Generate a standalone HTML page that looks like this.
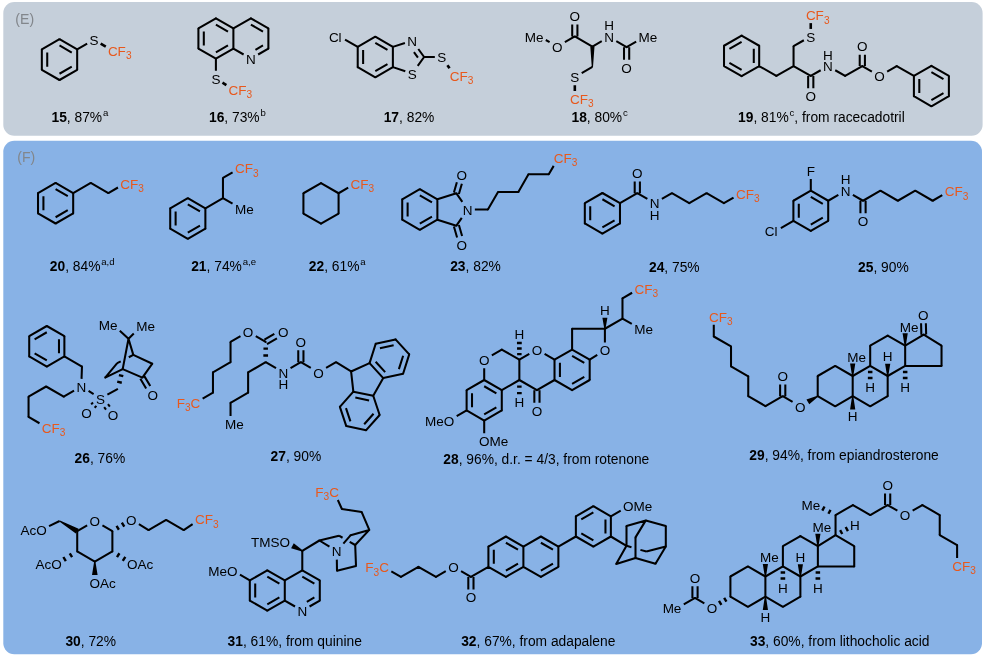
<!DOCTYPE html>
<html><head><meta charset="utf-8"><title>Scheme</title>
<style>
html,body{margin:0;padding:0;background:#fff}
svg{display:block;will-change:transform}
text{font-family:"Liberation Sans",Arial,Helvetica,sans-serif}
</style></head><body>
<svg width="987" height="661" viewBox="0 0 987 661">
<rect x="3.3" y="2.1" width="979.3" height="133.6" rx="11" ry="11" fill="#c5cfda"/>
<rect x="3.3" y="140.7" width="978.7" height="513.6" rx="11" ry="11" fill="#88b2e6"/>
<g font-size="14.1" fill="#82868b"><text x="15.3" y="23.8">(E)</text><text x="17.3" y="162.4">(F)</text></g>
<g fill="none" stroke="#000" stroke-width="2.05" stroke-linecap="butt" stroke-linejoin="round">
<path d="M59.5 39.2L77.17 49.4M59.5 45.44L71.77 52.52M77.17 49.4L77.17 69.8M77.17 69.8L59.5 80M71.77 66.68L59.5 73.76M59.5 80L41.83 69.8M41.83 69.8L41.83 49.4M47.23 66.68L47.23 52.52M41.83 49.4L59.5 39.2M77.17 49.4L87.16 43.63"/>
<path d="M59.5 39.2h0M77.17 49.4h0M77.17 69.8h0M59.5 80h0M41.83 69.8h0M41.83 49.4h0" stroke-linecap="round"/>
<path d="M99.99 44.65L105.13 47.68L106.45 45.44L101.31 42.41Z" fill="#000" stroke="none"/>
<path d="M215.9 18.3L233.39 28.4M215.9 24.54L227.99 31.52M233.39 28.4L233.39 48.6M233.39 48.6L215.9 58.7M227.99 45.48L215.9 52.46M215.9 58.7L198.41 48.6M198.41 48.6L198.41 28.4M203.81 45.48L203.81 31.52M198.41 28.4L215.9 18.3M250.89 18.3L268.38 28.4M250.89 24.54L262.98 31.52M268.38 28.4L268.38 48.6M268.38 48.6L258.15 54.51M262.98 45.48L255.45 49.83M243.62 54.51L233.39 48.6M233.39 28.4L250.89 18.3M215.9 58.7L215.9 70.67"/>
<path d="M215.9 18.3h0M233.39 28.4h0M233.39 48.6h0M215.9 58.7h0M198.41 48.6h0M198.41 28.4h0M250.89 18.3h0M268.38 28.4h0M268.38 48.6h0" stroke-linecap="round"/>
<path d="M221.78 83.67L225.63 86.17L227.05 83.99L223.2 81.49Z" fill="#000" stroke="none"/>
<path d="M375.3 36.7L392.88 46.85M375.3 42.94L387.48 49.97M392.88 46.85L392.88 67.15M392.88 67.15L375.3 77.3M387.48 64.03L375.3 71.06M375.3 77.3L357.72 67.15M357.72 67.15L357.72 46.85M363.12 64.03L363.12 49.97M357.72 46.85L375.3 36.7M357.72 46.85L345.03 39.52M392.88 46.85L404.92 42.94M418.31 49.01L424.12 57M413.95 52.18L417.92 57.65M424.12 57L417.73 65.79M405.29 71.18L392.88 67.15M424.12 57L434.83 57"/>
<path d="M375.3 36.7h0M392.88 46.85h0M392.88 67.15h0M375.3 77.3h0M357.72 67.15h0M357.72 46.85h0M424.12 57h0" stroke-linecap="round"/>
<path d="M446.35 65.88L448.48 68.93L450.61 67.43L448.48 64.39Z" fill="#000" stroke="none"/>
<path d="M592.4 46.6L574.82 36.45M577.42 36.45L577.42 24.58M572.22 36.45L572.22 24.58M574.82 36.45L564.88 42.19M549.6 42.19L545.8 40M592.4 46.6L601.76 41.19M616.29 41.19L626.61 47.15M624.01 47.15L624.01 59.82M629.21 47.15L629.21 59.82M626.61 47.15L636.18 41.63M592.4 66.9L581.71 73.07"/>
<path d="M592.4 46.6h0M574.82 36.45h0M626.61 47.15h0" stroke-linecap="round"/>
<path d="M593.01 66.9L594.5 46.6L590.3 46.6L591.78 66.9ZM573.52 85.18L573.52 91.02L576.12 91.02L576.12 85.18Z" fill="#000" stroke="none"/>
<path d="M741.6 35.6L759.18 45.75M759.18 45.75L759.18 66.05M753.78 48.87L753.78 62.93M759.18 66.05L741.6 76.2M741.6 76.2L724.02 66.05M741.6 69.96L729.42 62.93M724.02 66.05L724.02 45.75M724.02 45.75L741.6 35.6M729.42 48.87L741.6 41.84M759.18 66.05L776.37 75.97M776.37 75.97L793.56 66.05M793.56 66.05L793.56 46.2M793.56 46.2L803.86 40.25M793.56 66.05L810.75 75.97M808.15 75.97L808.15 88.19M813.35 75.97L813.35 88.19M810.75 75.97L820.68 70.24M835.21 70.24L845.13 75.97M845.13 75.97L862.32 66.05M864.92 66.05L864.92 54.63M859.72 66.05L859.72 54.63M862.32 66.05L871.87 71.56M887.15 71.56L896.71 66.05M896.71 66.05L913.9 75.97M931.39 65.87L948.88 75.97M931.39 72.11L943.48 79.09M948.88 75.97L948.88 96.17M948.88 96.17L931.39 106.27M943.48 93.06L931.39 100.04M931.39 106.27L913.9 96.17M913.9 96.17L913.9 75.97M919.3 93.06L919.3 79.09M913.9 75.97L931.39 65.87"/>
<path d="M741.6 35.6h0M759.18 45.75h0M759.18 66.05h0M741.6 76.2h0M724.02 66.05h0M724.02 45.75h0M776.37 75.97h0M793.56 66.05h0M793.56 46.2h0M810.75 75.97h0M845.13 75.97h0M862.32 66.05h0M896.71 66.05h0M913.9 75.97h0M931.39 65.87h0M948.88 75.97h0M948.88 96.17h0M931.39 106.27h0M913.9 96.17h0" stroke-linecap="round"/>
<path d="M812.05 28.94L812.05 23.11L809.45 23.11L809.45 28.94Z" fill="#000" stroke="none"/>
<path d="M55.6 182.9L73.18 193.05M55.6 189.14L67.78 196.17M73.18 193.05L73.18 213.35M73.18 213.35L55.6 223.5M67.78 210.23L55.6 217.26M55.6 223.5L38.02 213.35M38.02 213.35L38.02 193.05M43.42 210.23L43.42 196.17M38.02 193.05L55.6 182.9M73.18 193.05L90.76 182.9M90.76 182.9L108.34 193.05M108.34 193.05L117.96 187.49"/>
<path d="M55.6 182.9h0M73.18 193.05h0M73.18 213.35h0M55.6 223.5h0M38.02 213.35h0M38.02 193.05h0M90.76 182.9h0M108.34 193.05h0" stroke-linecap="round"/>
<path d="M187.8 198.2L205.38 208.35M187.8 204.44L199.98 211.47M205.38 208.35L205.38 228.65M205.38 228.65L187.8 238.8M199.98 225.53L187.8 232.56M187.8 238.8L170.22 228.65M170.22 228.65L170.22 208.35M175.62 225.53L175.62 211.47M170.22 208.35L187.8 198.2M205.38 208.35L222.96 198.2M222.96 198.2L222.96 177.9M222.96 177.9L232.58 172.34M222.96 198.2L232.53 203.72"/>
<path d="M187.8 198.2h0M205.38 208.35h0M205.38 228.65h0M187.8 238.8h0M170.22 228.65h0M170.22 208.35h0M222.96 198.2h0M222.96 177.9h0" stroke-linecap="round"/>
<path d="M321 183.1L338.58 193.25M338.58 193.25L338.58 213.55M338.58 213.55L321 223.7M321 223.7L303.42 213.55M303.42 213.55L303.42 193.25M303.42 193.25L321 183.1M338.58 193.25L348.2 187.69"/>
<path d="M321 183.1h0M338.58 193.25h0M338.58 213.55h0M321 223.7h0M303.42 213.55h0M303.42 193.25h0" stroke-linecap="round"/>
<path d="M419.8 189.2L437.38 199.35M419.8 195.44L431.98 202.47M437.38 199.35L437.38 219.65M437.38 219.65L419.8 229.8M431.98 216.53L419.8 223.56M419.8 229.8L402.22 219.65M402.22 219.65L402.22 199.35M407.62 216.53L407.62 202.47M402.22 199.35L419.8 189.2M437.38 199.35L456.4 193.3M456.4 193.3L462.32 201.87M461.77 217.93L456.4 225.7M456.4 225.7L437.38 219.65M458.9 194.02L461.86 183.75M453.9 192.58L456.87 182.31M453.9 226.42L457.1 237.49M458.9 224.98L462.09 236.05M474.86 209.5L487.9 209.5M487.9 209.5L498.05 191.92M498.05 191.92L518.35 191.92M518.35 191.92L528.5 174.34M528.5 174.34L548.8 174.34M548.8 174.34L553.68 165.88"/>
<path d="M419.8 189.2h0M437.38 199.35h0M437.38 219.65h0M419.8 229.8h0M402.22 219.65h0M402.22 199.35h0M456.4 193.3h0M456.4 225.7h0M487.9 209.5h0M498.05 191.92h0M518.35 191.92h0M528.5 174.34h0M548.8 174.34h0" stroke-linecap="round"/>
<path d="M602.4 193L619.98 203.15M602.4 199.24L614.58 206.27M619.98 203.15L619.98 223.45M619.98 223.45L602.4 233.6M614.58 220.33L602.4 227.36M602.4 233.6L584.82 223.45M584.82 223.45L584.82 203.15M590.22 220.33L590.22 206.27M584.82 203.15L602.4 193M619.98 203.15L637.3 193.15M639.9 193.15L639.9 181.58M634.7 193.15L634.7 181.58M637.3 193.15L647.36 198.96M661.89 198.96L671.94 193.15M671.94 193.15L689.26 203.15M689.26 203.15L706.58 193.15M706.58 193.15L723.9 203.15M723.9 203.15L733.53 197.59"/>
<path d="M602.4 193h0M619.98 203.15h0M619.98 223.45h0M602.4 233.6h0M584.82 223.45h0M584.82 203.15h0M637.3 193.15h0M671.94 193.15h0M689.26 203.15h0M706.58 193.15h0M723.9 203.15h0" stroke-linecap="round"/>
<path d="M810.8 190.7L828.21 200.75M810.8 196.94L822.81 203.87M828.21 200.75L828.21 220.85M828.21 220.85L810.8 230.9M822.81 217.73L810.8 224.66M810.8 230.9L793.39 220.85M793.39 220.85L793.39 200.75M798.79 217.73L798.79 203.87M793.39 200.75L810.8 190.7M810.8 190.7L810.8 179.03M793.39 220.85L780.88 228.08M828.21 200.75L838.35 194.89M852.88 194.89L863.02 200.75M860.42 200.75L860.42 213.22M865.62 200.75L865.62 213.22M863.02 200.75L880.43 190.7M880.43 190.7L897.84 200.75M897.84 200.75L915.24 190.7M915.24 190.7L932.65 200.75M932.65 200.75L942.27 195.19"/>
<path d="M810.8 190.7h0M828.21 200.75h0M828.21 220.85h0M810.8 230.9h0M793.39 220.85h0M793.39 200.75h0M863.02 200.75h0M880.43 190.7h0M897.84 200.75h0M915.24 190.7h0M932.65 200.75h0" stroke-linecap="round"/>
<path d="M46.8 326L64.38 336.15M64.38 336.15L64.38 356.45M58.98 339.27L58.98 353.33M64.38 356.45L46.8 366.6M46.8 366.6L29.22 356.45M46.8 360.36L34.62 353.33M29.22 356.45L29.22 336.15M29.22 336.15L46.8 326M34.62 339.27L46.8 332.24M64.38 356.45L81.96 366.6M81.96 366.6L81.55 378.87M74.04 390.69L63.72 396.65M63.72 396.65L46.14 386.5M46.14 386.5L28.56 396.65M28.56 396.65L28.56 416.95M28.56 416.95L39.48 423.26M88.56 390.96L93.61 394.06M92.99 402.54L91.18 404.39M96.42 405.9L94.61 407.75M104.17 407.09L106.02 409.52M107.99 404.18L109.84 406.61M128.5 338.8L119.8 330.68M128.5 338.8L133.78 333.52M122.7 369.1L128.5 338.8M128.5 338.8L133.3 354.9M133.3 354.9L152.3 363.7M152.3 363.7L142.4 377.6M142.4 377.6L122.7 369.1M140.34 378.84L146.15 388.5M144.46 376.36L150.27 386.03M122.7 369.1L105.2 377.6M105.2 377.6L117.2 363.2M117.2 363.2L120.74 361.37M128.79 357.22L133.3 354.9M117.9 388.8L107.39 394.54"/>
<path d="M46.8 326h0M64.38 336.15h0M64.38 356.45h0M46.8 366.6h0M29.22 356.45h0M29.22 336.15h0M81.96 366.6h0M63.72 396.65h0M46.14 386.5h0M28.56 396.65h0M28.56 416.95h0M128.5 338.8h0M122.7 369.1h0M133.3 354.9h0M152.3 363.7h0M142.4 377.6h0M105.2 377.6h0" stroke-linecap="round"/>
<path d="M119.2 373.97L118.63 376.3L123 377.37L123.57 375.03ZM117.5 380.51L116.93 382.84L121.5 383.96L122.07 381.62Z" fill="#000" stroke="none"/>
<path d="M267 344.15L276.94 338.41M264.4 339.65L274.34 333.91M265.7 341.9L255.76 336.16M240.48 336.16L230.54 341.9M230.54 341.9L230.54 362.2M230.54 362.2L212.96 372.35M212.96 372.35L212.96 392.65M212.96 392.65L202.64 398.61M265.7 362.2L248.12 372.35M248.12 372.35L248.12 392.65M248.12 392.65L230.54 402.8M230.54 402.8L230.54 415.97M265.7 362.2L276.02 368.16M290.54 368.16L300.86 362.2M303.46 362.2L303.46 350.33M298.26 362.2L298.26 350.33M300.86 362.2L310.8 367.94M326.08 367.94L336.02 362.2M351.09 371.47L369.57 363.08M383.26 378.08L373.23 395.73M353.35 391.64L351.09 371.47M336.02 362.2L351.09 371.47M383.26 378.08L369.57 363.08M385.15 372.13L375.66 361.75M369.57 363.08L375.71 343.73M375.71 343.73L395.54 339.38M379.91 348.34L393.65 345.32M395.54 339.38L409.23 354.37M409.23 354.37L403.09 373.72M403.14 355.71L398.88 369.11M403.09 373.72L383.26 378.08M353.35 391.64L373.23 395.73M355.32 397.56L369.09 400.39M373.23 395.73L379.64 414.99M379.64 414.99L366.16 430.17M373.53 413.73L364.2 424.25M366.16 430.17L346.28 426.09M346.28 426.09L339.87 406.82M350.42 421.42L345.98 408.08M339.87 406.82L353.35 391.64"/>
<path d="M265.7 362.2h0M265.7 341.9h0M230.54 341.9h0M230.54 362.2h0M212.96 372.35h0M212.96 392.65h0M248.12 372.35h0M248.12 392.65h0M230.54 402.8h0M300.86 362.2h0M336.02 362.2h0M351.09 371.47h0M369.57 363.08h0M383.26 378.08h0M373.23 395.73h0M353.35 391.64h0M375.71 343.73h0M395.54 339.38h0M409.23 354.37h0M403.09 373.72h0M379.64 414.99h0M366.16 430.17h0M346.28 426.09h0M339.87 406.82h0" stroke-linecap="round"/>
<path d="M263.45 347.47L263.45 349.87L267.95 349.87L267.95 347.47ZM263.35 354.23L263.35 356.63L268.05 356.63L268.05 354.23Z" fill="#000" stroke="none"/>
<path d="M484.2 380L501.78 390.15M484.2 386.24L496.38 393.27M501.78 390.15L501.78 410.45M501.78 410.45L484.2 420.6M496.38 407.33L484.2 414.36M484.2 420.6L466.62 410.45M466.62 410.45L466.62 390.15M472.02 407.33L472.02 393.27M466.62 390.15L484.2 380M466.62 410.45L456.68 416.19M484.2 420.6L484.2 433.27M501.78 349.55L519.36 359.7M519.36 359.7L519.36 380M519.36 380L501.78 390.15M484.2 380L484.2 368.13M491.84 355.29L501.78 349.55M544.58 353.96L554.52 359.7M554.52 380L536.94 390.15M536.94 390.15L519.36 380M519.36 359.7L529.3 353.96M534.34 390.15L534.34 402.82M539.54 390.15L539.54 402.82M572.1 349.55L589.68 359.7M572.1 355.79L584.28 362.82M589.68 359.7L589.68 380M589.68 380L572.1 390.15M584.28 376.88L572.1 383.91M572.1 390.15L554.52 380M554.52 380L554.52 359.7M559.92 376.88L559.92 362.82M554.52 359.7L572.1 349.55M572.1 349.55L572.1 328.75M572.1 328.75L604.9 328.75M604.9 328.75L604.9 342.57M597.26 354.97L589.68 359.7M604.9 328.75L622.48 318.6M622.48 318.6L622.48 298.3M622.48 298.3L632.1 292.74M622.48 318.6L631.79 323.97"/>
<path d="M484.2 380h0M501.78 390.15h0M501.78 410.45h0M484.2 420.6h0M466.62 410.45h0M466.62 390.15h0M501.78 349.55h0M519.36 359.7h0M519.36 380h0M554.52 359.7h0M554.52 380h0M536.94 390.15h0M572.1 349.55h0M589.68 359.7h0M589.68 380h0M572.1 390.15h0M572.1 328.75h0M604.9 328.75h0M622.48 318.6h0M622.48 298.3h0" stroke-linecap="round"/>
<path d="M605.51 328.75L607.4 317.78L602.4 317.78L604.28 328.75ZM521.59 355.31L521.59 352.91L517.13 352.91L517.13 355.31ZM521.68 349.72L521.68 347.32L517.04 347.32L517.04 349.72ZM521.76 344.13L521.76 341.73L516.96 341.73L516.96 344.13ZM517.11 385.38L517.11 387.78L521.61 387.78L521.61 385.38ZM517.01 391.97L517.01 394.37L521.71 394.37L521.71 391.97Z" fill="#000" stroke="none"/>
<path d="M835.2 365.9L852.69 376M852.69 376L852.69 396.2M852.69 396.2L835.2 406.3M835.2 406.3L817.71 396.2M817.71 396.2L817.71 376M817.71 376L835.2 365.9M870.19 365.9L887.68 376M887.68 376L887.68 396.2M887.68 396.2L870.19 406.3M870.19 406.3L852.69 396.2M852.69 376L870.19 365.9M887.68 335.6L905.17 345.7M905.17 345.7L905.17 365.9M905.17 365.9L887.68 376M870.19 365.9L870.19 345.7M870.19 345.7L887.68 335.6M905.17 345.7L923.76 334.59M923.76 334.59L941.53 345.7M941.53 345.7L941.53 365.9M941.53 365.9L905.17 365.9M926.16 334.53L925.87 323.16M921.36 334.65L921.07 323.28M792.57 401.89L782.72 396.2M785.32 396.2L785.32 384.43M780.12 396.2L780.12 384.43M782.72 396.2L765.48 406.15M765.48 406.15L748.25 396.2M748.25 396.2L748.25 376.3M748.25 376.3L731.02 366.35M731.02 366.35L731.02 346.45M731.02 346.45L713.78 336.5M713.78 336.5L713.78 324.73"/>
<path d="M835.2 365.9h0M852.69 376h0M852.69 396.2h0M835.2 406.3h0M817.71 396.2h0M817.71 376h0M870.19 365.9h0M887.68 376h0M887.68 396.2h0M870.19 406.3h0M887.68 335.6h0M905.17 345.7h0M905.17 365.9h0M870.19 345.7h0M923.76 334.59h0M941.53 345.7h0M941.53 365.9h0M782.72 396.2h0M765.48 406.15h0M748.25 396.2h0M748.25 376.3h0M731.02 366.35h0M731.02 346.45h0M713.78 336.5h0" stroke-linecap="round"/>
<path d="M905.79 345.7L907.77 333.3L902.57 333.3L904.56 345.7ZM853.31 376L855.29 363.6L850.09 363.6L852.08 376ZM867.95 370.78L867.95 373.18L872.43 373.18L872.43 370.78ZM867.85 376.87L867.85 379.27L872.52 379.27L872.52 376.87ZM902.93 370.78L902.93 373.18L907.42 373.18L907.42 370.78ZM902.84 376.87L902.84 379.27L907.51 379.27L907.51 376.87ZM888.3 376L890.28 363.8L885.08 363.8L887.07 376ZM852.08 396.2L850.09 409.6L855.29 409.6L853.31 396.2ZM817.4 395.67L806.45 399.46L809.25 404.31L818.01 396.73Z" fill="#000" stroke="none"/>
<path d="M102.44 525.41L112.38 531.15M112.38 531.15L112.38 551.45M112.38 551.45L94.8 561.6M94.8 561.6L77.22 551.45M77.22 551.45L77.22 531.15M77.22 531.15L87.16 525.41M59.64 521L49.03 526.17M138.89 524.13L148.56 530.06M148.56 530.06L166.14 519.91M166.14 519.91L183.72 530.06M183.72 530.06L192.62 524.05"/>
<path d="M112.38 531.15h0M112.38 551.45h0M94.8 561.6h0M77.22 551.45h0M77.22 531.15h0M148.56 530.06h0M166.14 519.91h0M183.72 530.06h0" stroke-linecap="round"/>
<path d="M59.33 521.53L75.82 533.57L78.62 528.73L59.95 520.47ZM70.78 552.69L68.72 553.92L71.05 557.8L73.1 556.56ZM64.41 556.38L62.35 557.62L64.79 561.68L66.85 560.45ZM94.19 561.6L92 574.97L97.6 574.97L95.41 561.6ZM115.99 556.42L118.02 557.71L120.44 553.91L118.41 552.62ZM121.77 560.23L123.79 561.52L126.33 557.54L124.3 556.25ZM117.89 530.38L119.93 529.11L117.56 525.3L115.52 526.56ZM123.28 527.14L125.32 525.88L122.86 521.9L120.82 523.17Z" fill="#000" stroke="none"/>
<path d="M267.3 570.3L284.79 580.4M267.3 576.54L279.39 583.52M284.79 580.4L284.79 600.6M284.79 600.6L267.3 610.7M279.39 597.48L267.3 604.46M267.3 610.7L249.81 600.6M249.81 600.6L249.81 580.4M255.21 597.48L255.21 583.52M249.81 580.4L267.3 570.3M302.29 570.3L319.78 580.4M302.29 576.54L314.38 583.52M319.78 580.4L319.78 600.6M319.78 600.6L309.55 606.51M314.38 597.48L306.85 601.83M295.02 606.51L284.79 600.6M284.79 580.4L302.29 570.3M249.81 580.4L239.95 574.71M302.29 570.3L302.29 550.9M302.29 550.9L319.4 540.5M319.4 540.5L329.44 546.71M319.4 540.5L339 535.7M339 535.7L342.56 537.75M349.69 541.84L355.2 545M343.38 543.57L350.7 535.2M350.7 535.2L369.3 529.9M369.3 529.9L355.2 545M355.2 545L356 565.9M356 565.9L337 570.7M337 570.7L336.83 559.63M369.3 529.9L361.7 512.1M361.7 512.1L341.9 509M341.9 509L337.83 500.03"/>
<path d="M267.3 570.3h0M284.79 580.4h0M284.79 600.6h0M267.3 610.7h0M249.81 600.6h0M249.81 580.4h0M302.29 570.3h0M319.78 580.4h0M319.78 600.6h0M302.29 550.9h0M319.4 540.5h0M355.2 545h0M350.7 535.2h0M369.3 529.9h0M356 565.9h0M337 570.7h0M361.7 512.1h0M341.9 509h0" stroke-linecap="round"/>
<path d="M302.58 550.36L293.76 543.19L291.13 548.14L302 551.44Z" fill="#000" stroke="none"/>
<path d="M505.9 536.5L523.39 546.6M505.9 542.74L517.99 549.72M523.39 546.6L523.39 566.8M523.39 566.8L505.9 576.9M517.99 563.68L505.9 570.66M505.9 576.9L488.41 566.8M488.41 566.8L488.41 546.6M493.81 563.68L493.81 549.72M488.41 546.6L505.9 536.5M540.89 536.5L558.38 546.6M540.89 542.74L552.98 549.72M558.38 546.6L558.38 566.8M558.38 566.8L540.89 576.9M552.98 563.68L540.89 570.66M540.89 576.9L523.39 566.8M523.39 546.6L540.89 536.5M488.41 566.8L470.91 576.9M468.31 576.9L468.31 589.47M473.51 576.9L473.51 589.47M470.91 576.9L461.06 571.21M445.78 571.21L435.93 576.9M435.93 576.9L418.43 566.8M418.43 566.8L400.94 576.9M400.94 576.9L391.31 571.34M558.38 546.6L575.87 536.5M593.37 506.2L610.86 516.3M610.86 516.3L610.86 536.5M605.46 519.42L605.46 533.38M610.86 536.5L593.37 546.6M593.37 546.6L575.87 536.5M593.37 540.36L581.27 533.38M575.87 536.5L575.87 516.3M575.87 516.3L593.37 506.2M581.27 519.42L593.37 512.44M610.86 516.3L620.72 510.61M610.86 536.5L626.5 545.8M626.5 545.8L626.5 525.9M626.5 525.9L645.8 520.4M645.8 520.4L665.8 525.9M665.8 525.9L665.8 546.4M665.8 546.4L655.5 563.7M655.5 563.7L635.5 557.9M635.5 557.9L616.2 564M616.2 564L626.5 545.8M645.8 520.4L635.5 537.4M635.5 537.4L635.5 557.9M665.8 546.4L646.4 551.6M626.5 545.8L631.48 547.25M640.43 549.86L646.4 551.6"/>
<path d="M505.9 536.5h0M523.39 546.6h0M523.39 566.8h0M505.9 576.9h0M488.41 566.8h0M488.41 546.6h0M540.89 536.5h0M558.38 546.6h0M558.38 566.8h0M540.89 576.9h0M470.91 576.9h0M435.93 576.9h0M418.43 566.8h0M400.94 576.9h0M575.87 536.5h0M593.37 506.2h0M610.86 516.3h0M610.86 536.5h0M593.37 546.6h0M575.87 516.3h0M626.5 545.8h0M626.5 525.9h0M645.8 520.4h0M665.8 525.9h0M665.8 546.4h0M655.5 563.7h0M635.5 557.9h0M616.2 564h0M635.5 537.4h0" stroke-linecap="round"/>
<path d="M747.9 566.4L765.39 576.5M765.39 576.5L765.39 596.7M765.39 596.7L747.9 606.8M747.9 606.8L730.41 596.7M730.41 596.7L730.41 576.5M730.41 576.5L747.9 566.4M782.89 566.4L800.38 576.5M800.38 576.5L800.38 596.7M800.38 596.7L782.89 606.8M782.89 606.8L765.39 596.7M765.39 576.5L782.89 566.4M800.38 536.1L817.87 546.2M817.87 546.2L817.87 566.4M817.87 566.4L800.38 576.5M782.89 566.4L782.89 546.2M782.89 546.2L800.38 536.1M817.87 546.2L835.55 535.09M835.55 535.09L854.23 546.2M854.23 546.2L854.23 566.4M854.23 566.4L817.87 566.4M704.34 603.36L695 597.97M697.6 597.97L697.6 586.36M692.4 597.97L692.4 586.36M695 597.97L683.78 604.45M835.55 535.09L835.55 515.04M835.55 515.04L852.91 505.02M852.91 505.02L870.28 515.04M870.28 515.04L887.64 505.02M890.24 505.02L890.24 493.4M885.04 505.02L885.04 493.4M887.64 505.02L897.36 510.63M912.65 510.63L922.37 505.02M922.37 505.02L939.73 515.04M939.73 515.04L939.73 535.09M939.73 535.09L957.1 545.12M957.1 545.12L957.1 557.88"/>
<path d="M747.9 566.4h0M765.39 576.5h0M765.39 596.7h0M747.9 606.8h0M730.41 596.7h0M730.41 576.5h0M782.89 566.4h0M800.38 576.5h0M800.38 596.7h0M782.89 606.8h0M800.38 536.1h0M817.87 546.2h0M817.87 566.4h0M782.89 546.2h0M835.55 535.09h0M854.23 546.2h0M854.23 566.4h0M695 597.97h0M835.55 515.04h0M852.91 505.02h0M870.28 515.04h0M887.64 505.02h0M922.37 505.02h0M939.73 515.04h0M939.73 535.09h0M957.1 545.12h0" stroke-linecap="round"/>
<path d="M818.49 546.2L820.47 533.8L815.27 533.8L817.26 546.2ZM766.01 576.5L767.99 564.1L762.79 564.1L764.78 576.5ZM780.65 571.28L780.65 573.68L785.13 573.68L785.13 571.28ZM780.55 577.37L780.55 579.77L785.22 579.77L785.22 577.37ZM815.63 571.28L815.63 573.68L820.12 573.68L820.12 571.28ZM815.54 577.37L815.54 579.77L820.21 579.77L820.21 577.37ZM801 576.5L802.98 564.3L797.78 564.3L799.77 576.5ZM764.78 596.7L762.79 610.1L767.99 610.1L766.01 596.7ZM725.17 597.23L723.12 598.47L725.42 602.31L727.48 601.07ZM720.02 600.22L717.96 601.46L720.36 605.45L722.42 604.22ZM841.18 534.62L843.3 533.48L841.17 529.52L839.06 530.66ZM846.86 531.68L848.97 530.55L846.76 526.42L844.64 527.55ZM831.59 510.38L829.47 509.26L827.36 513.23L829.47 514.36ZM825.56 507.06L823.44 505.93L821.23 510.09L823.35 511.22Z" fill="#000" stroke="none"/>
</g>
<g font-size="13.5" fill="#000">
<text x="89.55" y="44.88">S</text>
<text x="107.88" y="55.9" fill="#e8581c">CF<tspan dy="3.38" font-size="10.12">3</tspan></text>
<text x="246.01" y="63.93">N</text>
<text x="211.4" y="83.53">S</text>
<text x="228.43" y="94.83" fill="#e8581c">CF<tspan dy="3.38" font-size="10.12">3</tspan></text>
<text x="328.89" y="41.93">Cl</text>
<text x="407.31" y="45.81">N</text>
<text x="407.68" y="78.66">S</text>
<text x="437.22" y="62.23">S</text>
<text x="449.81" y="80.75" fill="#e8581c">CF<tspan dy="3.38" font-size="10.12">3</tspan></text>
<text x="569.57" y="21.38">O</text>
<text x="551.99" y="51.83">O</text>
<text x="524.66" y="41.68">Me</text>
<text x="604.15" y="42.23">N</text>
<text x="604.15" y="29.63">H</text>
<text x="621.36" y="72.68">O</text>
<text x="638.57" y="42.23">Me</text>
<text x="570.32" y="82.28">S</text>
<text x="569.95" y="103.58" fill="#e8581c">CF<tspan dy="3.38" font-size="10.12">3</tspan></text>
<text x="806.25" y="41.51">S</text>
<text x="805.88" y="20.21" fill="#e8581c">CF<tspan dy="3.38" font-size="10.12">3</tspan></text>
<text x="805.5" y="101.06">O</text>
<text x="823.07" y="71.28">N</text>
<text x="823.07" y="59.78">H</text>
<text x="857.07" y="51.43">O</text>
<text x="874.26" y="81.21">O</text>
<text x="120.35" y="188.53" fill="#e8581c">CF<tspan dy="3.38" font-size="10.12">3</tspan></text>
<text x="234.97" y="173.38" fill="#e8581c">CF<tspan dy="3.38" font-size="10.12">3</tspan></text>
<text x="234.92" y="213.58">Me</text>
<text x="350.59" y="188.73" fill="#e8581c">CF<tspan dy="3.38" font-size="10.12">3</tspan></text>
<text x="462.73" y="214.73">N</text>
<text x="456.55" y="179.83">O</text>
<text x="456.55" y="249.63">O</text>
<text x="553.68" y="162.68" fill="#e8581c">CF<tspan dy="3.38" font-size="10.12">3</tspan></text>
<text x="632.05" y="178.38">O</text>
<text x="649.75" y="208.38">N</text>
<text x="649.75" y="220.18">H</text>
<text x="735.92" y="198.63" fill="#e8581c">CF<tspan dy="3.38" font-size="10.12">3</tspan></text>
<text x="806.68" y="175.83">F</text>
<text x="764.74" y="236.13">Cl</text>
<text x="840.74" y="195.93">N</text>
<text x="840.74" y="183.93">H</text>
<text x="857.77" y="226.08">O</text>
<text x="944.66" y="196.23" fill="#e8581c">CF<tspan dy="3.38" font-size="10.12">3</tspan></text>
<text x="76.43" y="391.73">N</text>
<text x="41.87" y="432.68" fill="#e8581c">CF<tspan dy="3.38" font-size="10.12">3</tspan></text>
<text x="96" y="403.53">S</text>
<text x="81.25" y="417.83">O</text>
<text x="107.65" y="419.83">O</text>
<text x="147.55" y="400.13">O</text>
<text x="98.65" y="330.19">Me</text>
<text x="136.17" y="330.74">Me</text>
<text x="278.03" y="336.98">O</text>
<text x="242.87" y="336.98">O</text>
<text x="176.63" y="408.03" fill="#e8581c">F<tspan dy="3.38" font-size="10.12">3</tspan><tspan dy="-3.38">C</tspan></text>
<text x="224.92" y="428.83">Me</text>
<text x="278.41" y="377.58">N</text>
<text x="278.41" y="389.18">H</text>
<text x="295.61" y="347.13">O</text>
<text x="313.19" y="377.58">O</text>
<text x="425.04" y="425.83">MeO</text>
<text x="478.95" y="446.13">OMe</text>
<text x="478.95" y="364.93">O</text>
<text x="531.69" y="354.78">O</text>
<text x="531.69" y="415.68">O</text>
<text x="599.65" y="355.43">O</text>
<text x="600.03" y="314.58">H</text>
<text x="634.49" y="293.78" fill="#e8581c">CF<tspan dy="3.38" font-size="10.12">3</tspan></text>
<text x="634.18" y="333.83">Me</text>
<text x="514.49" y="338.53">H</text>
<text x="514.49" y="407.23">H</text>
<text x="899.85" y="331.63">Me</text>
<text x="847.37" y="361.93">Me</text>
<text x="865.31" y="392.13">H</text>
<text x="900.3" y="392.13">H</text>
<text x="882.81" y="361.43">H</text>
<text x="847.82" y="421.23">H</text>
<text x="918.01" y="320.02">O</text>
<text x="794.96" y="411.53">O</text>
<text x="777.47" y="381.23">O</text>
<text x="708.91" y="321.53" fill="#e8581c">CF<tspan dy="3.38" font-size="10.12">3</tspan></text>
<text x="89.55" y="526.23">O</text>
<text x="20.39" y="535.13">AcO</text>
<text x="35.39" y="569.2">AcO</text>
<text x="89.55" y="587.83">OAc</text>
<text x="126.95" y="569.31">OAc</text>
<text x="126" y="524.68">O</text>
<text x="195.01" y="524.39" fill="#e8581c">CF<tspan dy="3.38" font-size="10.12">3</tspan></text>
<text x="297.41" y="615.93">N</text>
<text x="208.31" y="575.53">MeO</text>
<text x="251.06" y="546.84">TMSO</text>
<text x="331.83" y="556.43">N</text>
<text x="315.25" y="496.83" fill="#e8581c">F<tspan dy="3.38" font-size="10.12">3</tspan><tspan dy="-3.38">C</tspan></text>
<text x="465.66" y="602.33">O</text>
<text x="448.17" y="572.03">O</text>
<text x="365.3" y="572.38" fill="#e8581c">F<tspan dy="3.38" font-size="10.12">3</tspan><tspan dy="-3.38">C</tspan></text>
<text x="623.11" y="511.43">OMe</text>
<text x="812.55" y="532.13">Me</text>
<text x="760.07" y="562.43">Me</text>
<text x="778.01" y="592.63">H</text>
<text x="813" y="592.63">H</text>
<text x="795.51" y="561.93">H</text>
<text x="760.52" y="621.73">H</text>
<text x="706.73" y="613.01">O</text>
<text x="689.75" y="583.16">O</text>
<text x="662.64" y="613.23">Me</text>
<text x="849.88" y="530.02">H</text>
<text x="801.57" y="510.18">Me</text>
<text x="882.39" y="490.2">O</text>
<text x="899.75" y="520.27">O</text>
<text x="952.22" y="570.75" fill="#e8581c">CF<tspan dy="3.38" font-size="10.12">3</tspan></text>
</g>
<g font-size="13.8" fill="#000">
<text x="51.5" y="122.3"><tspan font-weight="bold">15</tspan>, 87%<tspan dx="0.8" dy="-5.9" font-size="9.6">a</tspan></text>
<text x="209" y="122.3"><tspan font-weight="bold">16</tspan>, 73%<tspan dx="0.8" dy="-5.9" font-size="9.6">b</tspan></text>
<text x="383.7" y="122.3"><tspan font-weight="bold">17</tspan>, 82%</text>
<text x="571.5" y="122.3"><tspan font-weight="bold">18</tspan>, 80%<tspan dx="0.8" dy="-5.9" font-size="9.6">c</tspan></text>
<text x="738.1" y="122.3"><tspan font-weight="bold">19</tspan>, 81%<tspan dx="0.8" dy="-5.9" font-size="9.6">c</tspan><tspan dy="5.9">, from racecadotril</tspan></text>
<text x="49.8" y="271"><tspan font-weight="bold">20</tspan>, 84%<tspan dx="0.8" dy="-5.9" font-size="9.6">a,d</tspan></text>
<text x="191.2" y="271"><tspan font-weight="bold">21</tspan>, 74%<tspan dx="0.8" dy="-5.9" font-size="9.6">a,e</tspan></text>
<text x="308.8" y="271"><tspan font-weight="bold">22</tspan>, 61%<tspan dx="0.8" dy="-5.9" font-size="9.6">a</tspan></text>
<text x="450.2" y="271"><tspan font-weight="bold">23</tspan>, 82%</text>
<text x="649" y="271.6"><tspan font-weight="bold">24</tspan>, 75%</text>
<text x="858.1" y="271.8"><tspan font-weight="bold">25</tspan>, 90%</text>
<text x="74.6" y="463.1"><tspan font-weight="bold">26</tspan>, 76%</text>
<text x="270.6" y="461.4"><tspan font-weight="bold">27</tspan>, 90%</text>
<text x="443.3" y="463.5"><tspan font-weight="bold">28</tspan>, 96%, d.r. = 4/3, from rotenone</text>
<text x="749.3" y="459.6"><tspan font-weight="bold">29</tspan>, 94%, from epiandrosterone</text>
<text x="65.4" y="645.8"><tspan font-weight="bold">30</tspan>, 72%</text>
<text x="227.6" y="645.8"><tspan font-weight="bold">31</tspan>, 61%, from quinine</text>
<text x="461.2" y="645.8"><tspan font-weight="bold">32</tspan>, 67%, from adapalene</text>
<text x="750" y="645.8"><tspan font-weight="bold">33</tspan>, 60%, from lithocholic acid</text>
</g>
</svg>
</body></html>
